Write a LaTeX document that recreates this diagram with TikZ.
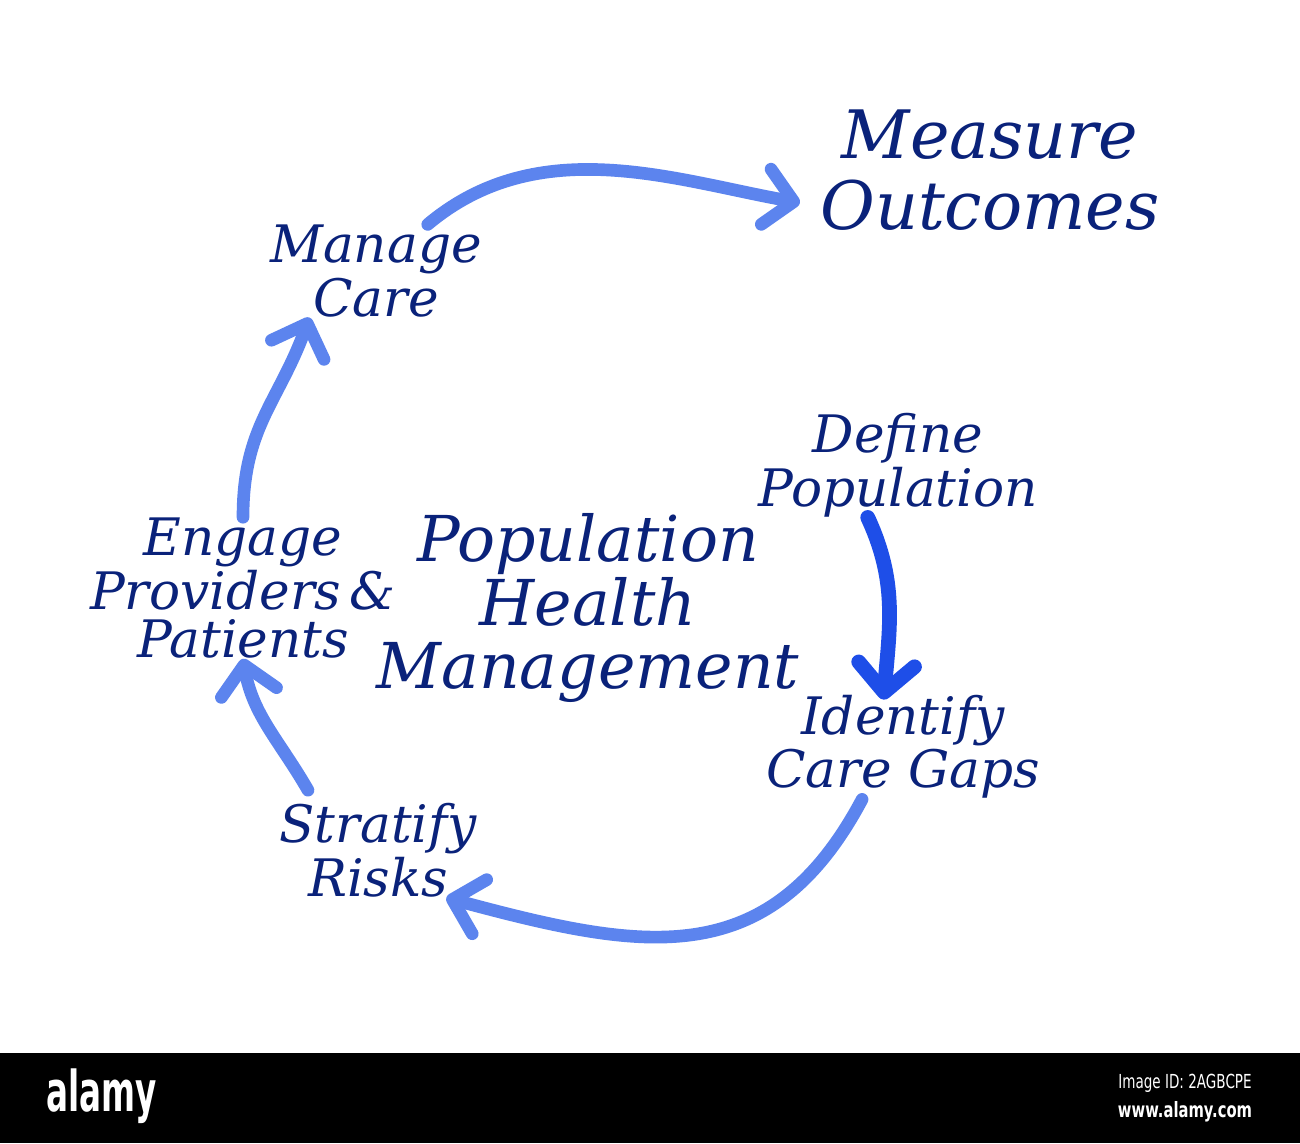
\documentclass[tikz,border=0pt]{standalone}
\usepackage{fontspec}
\setmainfont{DejaVu Serif}
\setsansfont{DejaVu Sans}
\usetikzlibrary{arrows.meta}

\definecolor{ink}{RGB}{10,34,122}
\definecolor{arrowblue}{RGB}{92,132,238}
\definecolor{deepblue}{RGB}{30,78,232}

\begin{document}
\begin{tikzpicture}[
  stage/.style={text=ink,align=center,inner sep=0pt,font=\fontsize{14.7}{13.5}\selectfont\itshape},
  hub/.style={stage,font=\fontsize{18}{18}\selectfont\itshape},
  goal/.style={stage,font=\fontsize{19}{20}\selectfont\itshape},
  arrow/.style={arrowblue,line width=3.6pt,line cap=round,-{Straight Barb[length=2.8mm,width=5.6mm,round]}},
  mark text/.style={text=white,inner sep=0pt,font=\sffamily}
]
\useasboundingbox (0,0) rectangle (13,11.43);
\fill[white] (0,0) rectangle (13,11.43);

\node[goal] (measure) at (9.9,9.73) {Measure\\Outcomes};
\node[stage] (manage) at (3.76,8.72) {Manage\\Care};
\node[stage] (define) at (8.98,6.78) {Define\\Population};
\node[hub] (phm) at (5.88,5.35) {Population\\Health\\Management};
\node[stage] (engage) at (2.43,5.55) {Engage\\Providers\,\&\\Patients};
\node[stage] (identify) at (9.03,3.96) {Identify\\Care Gaps};
\node[stage] (stratify) at (3.78,2.93) {Stratify\\Risks};

\draw[arrow,shorten >=2mm] (manage.42) to[out=40,in=170,looseness=0.95] (measure.192);
\draw[arrow] (engage.north) to[out=90,in=250,looseness=1.1] (manage.215);
\draw[arrow,deepblue,line width=4.2pt,shorten >=-0.5mm] (define.240) to[out=-65,in=85] (identify.110);
\draw[arrow] (identify.232) to[out=-118,in=-15,looseness=1.2] (stratify.325);
\draw[arrow] ([shift={(-0.7,0.12)}]stratify.north) to[out=120,in=-80] (engage.south);

% stock bar
\fill[black] (0,0) rectangle (13,0.9);
\node[mark text,font=\sffamily\bfseries\fontsize{16}{16}\selectfont] (brand) at (1.02,0.47) {\scalebox{0.58}[1]{alamy}};
\node[mark text,font=\sffamily\fontsize{5.5}{6}\selectfont] (imgid) at (11.85,0.6) {\scalebox{0.7}[1]{Image ID: 2AGBCPE}};
\node[mark text,font=\sffamily\bfseries\fontsize{6}{7}\selectfont] (site) at (11.85,0.31) {\scalebox{0.7}[1]{www.alamy.com}};
\end{tikzpicture}
\end{document}
